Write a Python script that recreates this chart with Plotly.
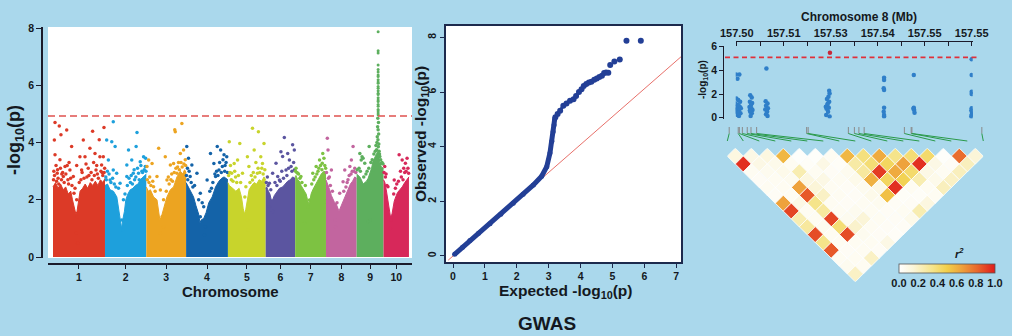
import plotly.graph_objects as go

FIG_W, FIG_H = 1012, 336
FONT = "Arial, 'Liberation Sans', Helvetica, sans-serif"
INK = "#141821"
BG = "#aad8ec"


def fx(p):
    return p / FIG_W


def fy(p):
    return 1 - p / FIG_H


# ---------------- Manhattan plot data ----------------
chrom_labels = ["1", "2", "3", "4", "5", "6", "7", "8", "9", "10"]
chrom_length_mb = [307, 244, 235, 247, 223, 174, 182, 181, 159, 150]
chrom_colors = ["#dc3a27", "#1ea0dc", "#eca421", "#1463a8", "#c8d42c",
                "#5b55a0", "#7dc242", "#c2659f", "#5daf5e", "#d7285a"]

# dense SNP cloud: (position Mb, upper -log10 p of the solid band)
chr1_band = [(0, 2.45), (15, 2.6), (30, 2.4), (45, 2.55), (60, 2.35), (75, 2.45), (90, 2.2), (105, 2.3),
             (115, 2.0), (125, 1.7), (135, 1.5), (142, 1.6), (150, 1.9), (160, 2.3), (175, 2.4), (190, 2.55),
             (205, 2.4), (220, 2.6), (235, 2.5), (250, 2.65), (265, 2.5), (280, 2.7), (295, 2.6), (307, 2.75)]
chr2_band = [(0, 2.5), (15, 2.55), (30, 2.35), (50, 2.3), (70, 2.1), (83, 1.65), (92, 1.2), (98, 1.0),
             (105, 1.3), (115, 1.6), (123, 2.0), (135, 2.2), (149, 2.35), (165, 2.4), (179, 2.5), (195, 2.55),
             (208, 2.7), (225, 2.8), (244, 2.9)]
chr3_band = [(0, 2.45), (12, 2.3), (24, 2.35), (43, 2.1), (63, 2.0), (72, 1.6), (80, 1.3), (89, 1.4),
             (102, 1.75), (112, 1.9), (122, 2.1), (142, 2.35), (161, 2.45), (181, 2.8), (201, 3.0), (215, 2.9),
             (226, 3.05), (235, 2.95)]
chr4_band = [(0, 2.6), (12, 2.45), (24, 2.35), (44, 2.1), (58, 1.8), (74, 1.5), (82, 1.2), (90, 1.3),
             (104, 1.35), (118, 1.55), (134, 1.9), (154, 2.1), (174, 2.45), (194, 2.65), (210, 2.75),
             (224, 2.8), (247, 2.7)]
chr5_band = [(0, 2.6), (8, 2.5), (28, 2.4), (47, 2.3), (66, 2.4), (80, 2.1), (90, 1.7), (98, 1.5),
             (105, 1.65), (115, 2.0), (125, 2.35), (140, 2.5), (155, 2.6), (170, 2.55), (184, 2.7),
             (200, 2.65), (213, 2.8), (223, 2.7)]
chr6_band = [(0, 2.4), (6, 2.45), (16, 2.3), (25, 2.2), (33, 2.0), (41, 2.0), (51, 2.15), (61, 2.25),
             (71, 2.3), (81, 2.4), (100, 2.45), (115, 2.55), (130, 2.65), (145, 2.7), (159, 2.8), (174, 2.75)]
chr7_band = [(0, 2.8), (5, 2.85), (15, 2.7), (25, 2.65), (35, 2.5), (45, 2.4), (55, 2.3), (65, 2.2),
             (73, 2.0), (81, 1.85), (88, 2.0), (94, 2.2), (104, 2.35), (114, 2.45), (124, 2.55), (134, 2.7),
             (144, 2.8), (154, 2.9), (170, 3.0), (182, 2.95)]
chr8_band = [(0, 2.7), (10, 2.55), (22, 2.35), (32, 2.15), (41, 2.0), (51, 1.9), (61, 1.85), (70, 1.7),
             (77, 1.6), (87, 1.75), (97, 1.9), (109, 2.05), (121, 2.25), (133, 2.4), (144, 2.55),
             (157, 2.65), (170, 2.8), (181, 2.75)]
chr9_band = [(0, 2.9), (10, 2.85), (19, 2.8), (28, 2.7), (38, 2.55), (48, 2.6), (58, 2.65), (68, 2.75),
             (78, 2.9), (88, 3.1), (97, 3.35), (107, 3.5), (117, 3.6), (127, 3.7), (137, 3.3), (146, 3.15),
             (159, 3.1)]
chr10_band = [(0, 2.7), (8, 2.6), (16, 2.35), (24, 2.0), (31, 1.75), (36, 1.5), (41, 1.4), (50, 1.5),
              (56, 1.75), (63, 1.95), (72, 2.1), (82, 2.25), (96, 2.35), (110, 2.45), (125, 2.6),
              (139, 2.7), (150, 2.8)]

# individual SNPs above / around the band: (position Mb, -log10 p)
chr1_hits = [(12, 4.7), (37, 4.58), (47, 4.27), (8, 4.09), (81, 4.44), (110, 3.86), (179, 4.09), (234, 4.4),
             (301, 4.53), (273, 4.1), (218, 3.8), (159, 3.5), (12, 3.57), (41, 3.4), (71, 3.16), (100, 3.04),
             (140, 3.2), (189, 3.5), (248, 3.62), (277, 3.5), (297, 3.5), (25, 2.93), (61, 2.81), (120, 2.81),
             (169, 3.04), (208, 3.1), (254, 3.04), (287, 3.22), (140, 2.0), (143, 1.41), (136, 0.83),
             (146, 0.48), (124, 2.23), (5, 3.0), (18, 3.2), (30, 2.75), (52, 2.9), (88, 2.7), (95, 3.3),
             (130, 2.4), (155, 2.6), (200, 2.8), (225, 2.95), (240, 3.3), (262, 2.9), (290, 2.95), (305, 3.1),
             (3, 2.7), (9, 2.85), (21, 2.65), (27, 3.05), (34, 2.55), (44, 3.1), (50, 2.7), (57, 2.95),
             (66, 2.6), (76, 2.9), (84, 3.2), (92, 2.55), (104, 2.75), (112, 2.5), (165, 2.7), (172, 2.95),
             (183, 2.75), (195, 3.25), (212, 2.85), (230, 2.7), (244, 2.85), (258, 3.2), (268, 2.75),
             (283, 3.0), (294, 2.85), (302, 2.95)]
chr2_hits = [(49, 4.73), (10, 4.09), (40, 4.03), (60, 3.86), (139, 3.74), (184, 3.86), (189, 4.35),
             (20, 3.39), (49, 3.04), (129, 3.22), (158, 3.39), (208, 3.33), (228, 3.5), (238, 3.16),
             (69, 2.93), (89, 2.58), (109, 2.0), (99, 1.29), (105, 0.94), (167, 2.93), (198, 2.93),
             (30, 2.69), (129, 2.81), (5, 2.8), (80, 2.4), (150, 2.6), (218, 3.0), (240, 3.45), (175, 2.7),
             (8, 2.7), (14, 3.0), (24, 2.9), (35, 2.6), (45, 2.75), (55, 2.55), (64, 2.45), (118, 2.2),
             (132, 2.5), (142, 2.75), (155, 2.85), (162, 2.55), (172, 3.05), (182, 2.8), (192, 3.1),
             (202, 2.7), (212, 3.2), (222, 2.95), (232, 3.05), (242, 3.0)]
chr3_hits = [(171, 4.38), (168, 4.45), (210, 4.67), (73, 3.8), (34, 3.27), (14, 3.39), (4, 3.16),
             (112, 3.5), (142, 3.22), (161, 3.27), (201, 3.62), (220, 3.74), (63, 2.81), (83, 2.34),
             (102, 2.0), (93, 1.41), (83, 0.83), (102, 1.06), (181, 2.93), (122, 2.69), (43, 2.46),
             (190, 3.3), (230, 3.4), (130, 2.8), (150, 2.9), (20, 2.8),
             (6, 2.7), (16, 2.6), (27, 2.5), (38, 2.65), (52, 2.3), (118, 2.3), (135, 2.55), (145, 2.7),
             (155, 2.65), (165, 2.95), (175, 3.1), (185, 3.15), (195, 3.05), (205, 3.3), (212, 3.15),
             (222, 3.25), (232, 3.2)]
chr4_hits = [(4, 3.86), (14, 3.45), (34, 3.22), (64, 2.93), (84, 2.23), (74, 2.0), (104, 1.76), (114, 1.06),
             (108, 0.77), (84, 1.41), (144, 3.62), (184, 3.86), (204, 3.74), (224, 3.57), (240, 3.5),
             (164, 3.27), (194, 3.04), (124, 2.69), (214, 3.16), (174, 2.81), (24, 2.81), (8, 3.1),
             (50, 2.5), (95, 1.9), (140, 2.3), (230, 3.2),
             (2, 2.85), (10, 2.7), (18, 3.0), (30, 2.6), (40, 2.45), (150, 2.4), (158, 2.6), (170, 2.9),
             (180, 3.0), (188, 2.85), (198, 3.3), (208, 2.95), (218, 3.4), (228, 3.0), (236, 3.3), (244, 2.95)]
chr5_hits = [(8, 4.03), (70, 3.97), (145, 4.5), (180, 4.38), (155, 3.74), (213, 3.97), (37, 3.27),
             (57, 3.39), (115, 3.5), (124, 3.16), (194, 3.5), (204, 3.27), (22, 2.93), (86, 2.93),
             (106, 2.46), (115, 1.29), (118, 0.94), (174, 2.93), (145, 2.69), (165, 3.3), (15, 3.2),
             (45, 2.8), (200, 3.1), (100, 2.1),
             (4, 2.85), (12, 2.95), (20, 2.7), (30, 2.65), (40, 3.0), (52, 2.6), (62, 2.85), (75, 2.6),
             (130, 2.6), (138, 2.85), (150, 2.95), (160, 2.8), (178, 3.1), (188, 2.95), (208, 2.9), (218, 3.05)]
chr6_hits = [(110, 4.18), (90, 3.68), (100, 3.51), (159, 3.92), (169, 3.74), (130, 3.62), (61, 3.28),
             (41, 2.93), (22, 2.58), (140, 3.39), (150, 3.16), (120, 3.04), (22, 1.76), (41, 1.59),
             (71, 2.81), (81, 2.69), (10, 2.8), (95, 3.0), (165, 3.3), (55, 2.6),
             (4, 2.6), (14, 2.5), (30, 2.35), (66, 2.5), (86, 2.65), (105, 2.75), (125, 2.85), (135, 3.1),
             (155, 3.0), (170, 3.05)]
chr7_hits = [(163, 3.62), (144, 3.39), (124, 3.16), (104, 2.93), (15, 2.93), (34, 2.81), (55, 1.18),
             (85, 1.99), (75, 1.76), (160, 3.28), (5, 3.1), (170, 3.45), (135, 3.0), (60, 2.5),
             (2, 3.0), (10, 2.95), (20, 2.9), (28, 2.75), (40, 2.6), (98, 2.55), (110, 2.7), (118, 2.8),
             (128, 2.9), (140, 3.1), (150, 3.2), (158, 3.05), (175, 3.2), (180, 3.1)]
chr8_hits = [(8, 4.15), (12, 3.74), (160, 3.86), (150, 3.39), (101, 2.63), (81, 2.23), (52, 1.29),
             (56, 1.06), (111, 3.04), (141, 3.16), (32, 3.04), (20, 2.8), (170, 3.1), (65, 1.9), (125, 2.6),
             (3, 2.95), (14, 2.75), (26, 2.5), (38, 2.3), (105, 2.3), (118, 2.45), (130, 2.7), (137, 2.85),
             (148, 2.9), (155, 3.0), (165, 3.0), (176, 2.95)]
chr9_hits = [(74, 3.86), (19, 3.62), (38, 3.45), (48, 3.28), (137, 3.51), (146, 3.28), (97, 3.04),
             (78, 1.29), (32, 3.5), (27, 3.39), (66, 1.24), (125, 4.85), (129, 4.7), (124, 4.55),
             (127, 4.45), (130, 4.3), (122, 4.2), (126, 4.1), (131, 3.95), (120, 4.0), (128, 3.85),
             (118, 3.75), (133, 3.7),
             (4, 3.05), (14, 3.1), (22, 3.0), (42, 2.8), (55, 2.9), (62, 3.0), (72, 3.1), (84, 3.3),
             (92, 3.4), (102, 3.6), (110, 3.7), (114, 3.9), (135, 3.6), (142, 3.4), (150, 3.3), (156, 3.25)]
chr10_hits = [(92, 3.57), (110, 3.39), (129, 3.28), (139, 3.45), (119, 3.1), (7, 3.16), (26, 2.46),
              (44, 1.29), (63, 2.69), (148, 2.93), (40, 1.0), (100, 3.0), (15, 2.9),
              (3, 2.95), (11, 2.8), (20, 2.5), (60, 2.2), (70, 2.4), (78, 2.55), (88, 2.65), (105, 2.8),
              (115, 2.7), (125, 2.95), (133, 3.0), (144, 3.1)]

# significant column on chromosome 9
chr9_peak_mb = 127
chr9_peak_logp = [7.87, 7.21, 7.13, 6.71, 6.55, 6.47, 6.36, 6.31, 6.2, 6.12, 6.07, 5.96, 5.9, 5.81,
                  5.72, 5.68, 5.57, 5.49, 5.44, 5.33, 5.27, 5.16, 5.1, 5.03, 4.97]

manhattan_threshold = 4.93

# ---------------- QQ plot data ----------------
qq_expected_dense = [0.05, 0.3, 0.53, 0.8, 1.16, 1.5, 1.89, 2.2, 2.52, 2.78, 2.94, 3.04, 3.1, 3.14, 3.17, 3.19]
qq_observed_dense = [0.06, 0.32, 0.57, 0.83, 1.18, 1.53, 1.93, 2.26, 2.6, 2.92, 3.27, 3.77, 4.2, 4.55, 4.8, 5.02]
qq_expected_upper = [3.21, 3.28, 3.36, 3.46, 3.56, 3.67, 3.78, 3.86, 3.95, 4.03, 4.1, 4.18, 4.26, 4.34,
                     4.43, 4.51, 4.59, 4.67, 4.74, 4.8, 4.87]
qq_observed_upper = [5.08, 5.2, 5.32, 5.5, 5.58, 5.68, 5.74, 5.86, 6.0, 6.1, 6.22, 6.3, 6.35, 6.38,
                     6.45, 6.5, 6.55, 6.6, 6.7, 6.72, 6.71]
qq_expected_top = [4.93, 5.06, 5.23, 5.44, 5.89]
qq_observed_top = [6.99, 7.12, 7.19, 7.88, 7.88]
qq_ref_expected = [-0.15, 7.15]
qq_ref_slope = 1.02

# ---------------- regional association data (Mb, -log10 p) ----------------
region_mb = [157.4998, 157.5007, 157.5002, 157.4999, 157.5004, 157.5009, 157.4997, 157.5003, 157.5008,
             157.5001, 157.5006, 157.4998, 157.5010, 157.5002, 157.5006, 157.4999, 157.5005, 157.5011,
             157.4996, 157.5003,
             157.5036, 157.5040, 157.5035, 157.5041, 157.5038, 157.5034, 157.5039, 157.5042, 157.5036,
             157.5040, 157.5037, 157.5035,
             157.5079, 157.5077, 157.5082, 157.5078, 157.5083, 157.5080, 157.5076, 157.5081, 157.5078,
             157.5082,
             157.5246, 157.5247, 157.5244, 157.5240, 157.5246, 157.5241, 157.5237, 157.5245, 157.5239,
             157.5243, 157.5238, 157.5247, 157.5242,
             157.5392, 157.5392, 157.5391, 157.5392, 157.5392, 157.5391, 157.5392, 157.5392,
             157.5471, 157.5471, 157.5472, 157.5473, 157.5470,
             157.5625, 157.5625, 157.5625, 157.5625, 157.5625, 157.5624, 157.5626, 157.5625, 157.5624,
             157.5626]
region_logp = [3.65, 3.65, 3.3, 1.63, 1.5, 1.35, 1.2, 1.07, 0.93, 0.79, 0.65, 0.5, 0.37, 0.23, 0.14, 0.9,
               1.0, 0.8, 0.6, 0.4,
               1.9, 1.7, 1.35, 1.25, 1.07, 0.9, 0.79, 0.65, 0.5, 0.37, 0.14, 0.6,
               4.15, 1.4, 1.2, 1.0, 0.8, 0.65, 0.7, 0.5, 0.3, 0.14,
               2.28, 2.05, 1.77, 1.58, 1.35, 1.07, 0.93, 0.85, 0.75, 0.5, 0.23, 0.1, 1.2,
               3.38, 3.18, 2.48, 2.34, 0.85, 0.5, 0.23, 0.1,
               3.6, 0.85, 0.65, 0.42, 0.75,
               4.95, 3.6, 2.2, 2.0, 0.8, 0.6, 0.42, 0.23, 0.1, 0.3]
lead_snp_mb = [157.5248]
lead_snp_logp = [5.5]
region_threshold = 5.1

region_tick_mb = [157.5, 157.5125, 157.525, 157.5375, 157.55, 157.5625]
region_tick_text = ["157.50", "157.51", "157.53", "157.54", "157.55", "157.55"]
region_minor_mb = [157.50625, 157.51875, 157.53125, 157.54375, 157.55625]

# SNPs used for the LD block (Mb)
ld_snp_mb = [157.4980, 157.5004, 157.5007, 157.5015, 157.5028, 157.5038, 157.5053, 157.5186, 157.5190,
             157.5297, 157.5313, 157.5325, 157.5339, 157.5446, 157.5464, 157.5466, 157.5652]

# pairwise r^2, row d holds pairs (i, i + d)
ld_r2_by_offset = [
    [0.12, 0.10, 0.12, 0.58, 0.02, 0.02, 0.05, 0.58, 0.38, 0.62, 0.35, 0.40, 0.42, 0.02, 0.80, 0.15],
    [0.95, 0.10, 0.08, 0.05, 0.03, 0.10, 0.03, 0.28, 0.40, 0.45, 0.65, 0.95, 0.10, 0.04, 0.22],
    [0.05, 0.06, 0.08, 0.25, 0.05, 0.04, 0.06, 0.30, 0.92, 0.62, 0.42, 0.10, 0.05, 0.22],
    [0.04, 0.05, 0.06, 0.12, 0.10, 0.05, 0.08, 0.60, 0.45, 0.48, 0.25, 0.08, 0.20],
    [0.05, 0.05, 0.65, 0.15, 0.05, 0.04, 0.06, 0.10, 0.95, 0.05, 0.05, 0.22],
    [0.04, 0.05, 0.85, 0.20, 0.05, 0.04, 0.08, 0.55, 0.03, 0.03, 0.05],
    [0.65, 0.10, 0.35, 0.05, 0.04, 0.05, 0.06, 0.04, 0.04, 0.12],
    [0.90, 0.05, 0.30, 0.05, 0.06, 0.05, 0.04, 0.05, 0.25],
    [0.25, 0.05, 0.90, 0.06, 0.15, 0.05, 0.04, 0.08],
    [0.30, 0.06, 0.40, 0.18, 0.05, 0.04, 0.04],
    [0.88, 0.05, 0.88, 0.06, 0.04, 0.03],
    [0.35, 0.05, 0.05, 0.05, 0.10],
    [0.85, 0.04, 0.05, 0.04],
    [0.05, 0.05, 0.20],
    [0.06, 0.05],
    [0.20],
]
r2_ticks = [0.0, 0.2, 0.4, 0.6, 0.8, 1.0]

ld_colorscale = [[0.0, "#ffffff"], [0.15, "#fbf5d8"], [0.35, "#f5e48a"], [0.5, "#f2cf4a"],
                 [0.65, "#eea23c"], [0.82, "#e8662c"], [1.0, "#e01b1b"]]

# ---------------- panel geometry ----------------
MAN_X_DOM = [fx(48), fx(412)]
MAN_Y_DOM = [fy(258), fy(27)]
QQ_X_DOM = [fx(446), fx(681)]
QQ_Y_DOM = [fy(262), fy(26)]
REG_X_DOM = [fx(735.7), fx(972.7)]
REG_X_RANGE = [157.49973, 157.56277]
REG_Y_DOM = [fy(118.5), fy(46)]
LD_X_DOM = [fx(727.3), fx(983.3)]
LD_Y_DOM = [fy(281.7), fy(148.3)]

fig = go.Figure()

# ---- Manhattan ----
bands = [chr1_band, chr2_band, chr3_band, chr4_band, chr5_band,
         chr6_band, chr7_band, chr8_band, chr9_band, chr10_band]
hits = [chr1_hits, chr2_hits, chr3_hits, chr4_hits, chr5_hits,
        chr6_hits, chr7_hits, chr8_hits, chr9_hits, chr10_hits]
offsets = []
acc = 0
for L in chrom_length_mb:
    offsets.append(acc)
    acc += L
centers = [o + L / 2 for o, L in zip(offsets, chrom_length_mb)]

for k in range(10):
    off, col = offsets[k], chrom_colors[k]
    fig.add_trace(go.Scatter(
        x=[off + p for p, _ in bands[k]], y=[v for _, v in bands[k]],
        mode="lines", line=dict(width=1, color=col), fill="tozeroy", fillcolor=col,
        xaxis="x", yaxis="y", hoverinfo="skip"))
    fig.add_trace(go.Scatter(
        x=[off + p for p, _ in hits[k]], y=[v for _, v in hits[k]],
        mode="markers", marker=dict(size=3.5, color=col, line=dict(width=0)),
        xaxis="x", yaxis="y", hoverinfo="skip"))

fig.add_trace(go.Scatter(
    x=[offsets[8] + chr9_peak_mb] * len(chr9_peak_logp), y=chr9_peak_logp,
    mode="markers", marker=dict(size=3, color=chrom_colors[8], line=dict(width=0)),
    xaxis="x", yaxis="y", hoverinfo="skip"))

# ---- QQ ----
QQ_BLUE = "#233f96"
fig.add_trace(go.Scatter(
    x=qq_ref_expected, y=[qq_ref_slope * v for v in qq_ref_expected],
    mode="lines", line=dict(color="#e8706a", width=1), xaxis="x2", yaxis="y2", hoverinfo="skip"))
fig.add_trace(go.Scatter(
    x=qq_expected_dense, y=qq_observed_dense, mode="lines+markers",
    line=dict(color=QQ_BLUE, width=5), marker=dict(size=5, color=QQ_BLUE),
    xaxis="x2", yaxis="y2", hoverinfo="skip"))
fig.add_trace(go.Scatter(
    x=qq_expected_upper, y=qq_observed_upper, mode="lines+markers",
    line=dict(color=QQ_BLUE, width=3), marker=dict(size=6, color=QQ_BLUE),
    xaxis="x2", yaxis="y2", hoverinfo="skip"))
fig.add_trace(go.Scatter(
    x=qq_expected_top, y=qq_observed_top, mode="markers",
    marker=dict(size=6, color=QQ_BLUE), xaxis="x2", yaxis="y2", hoverinfo="skip"))

# ---- regional association ----
fig.add_trace(go.Scatter(
    x=region_mb, y=region_logp, mode="markers",
    marker=dict(size=4.5, color="#2f7fc9", line=dict(width=0)),
    xaxis="x3", yaxis="y3", hoverinfo="skip"))
fig.add_trace(go.Scatter(
    x=lead_snp_mb, y=lead_snp_logp, mode="markers",
    marker=dict(size=4.5, color="#c8283a", line=dict(width=0)),
    xaxis="x3", yaxis="y3", hoverinfo="skip"))

# ---- LD heatmap as rotated squares ----
ld_x, ld_y, ld_c = [], [], []
for d, row in enumerate(ld_r2_by_offset, start=1):
    for i, r2 in enumerate(row):
        ld_x.append(i + d / 2)
        ld_y.append(-d / 2)
        ld_c.append(r2)
n_snp = len(ld_r2_by_offset) + 1

fig.add_trace(go.Scatter(
    x=ld_x, y=ld_y, mode="markers", xaxis="x4", yaxis="y4", hoverinfo="skip",
    marker=dict(symbol="diamond", size=12.3, color=ld_c, cmin=0, cmax=1,
                colorscale=ld_colorscale, line=dict(color="white", width=0.8),
                colorbar=dict(orientation="h", x=fx(947), xanchor="center",
                              y=fy(264), yanchor="top", len=96 / FIG_W, lenmode="fraction",
                              thickness=9, thicknessmode="pixels", xpad=0, ypad=0,
                              outlinewidth=0.8, outlinecolor="#555", ticks="",
                              tickvals=r2_ticks, ticktext=[f"{v:.1f}" for v in r2_ticks],
                              tickfont=dict(family=FONT, size=11, color=INK, weight="bold")))))

# ---------------- shapes ----------------
shapes = [
    dict(type="rect", xref="x domain", yref="y domain", x0=0, x1=1, y0=0, y1=1,
         fillcolor="white", line=dict(width=0), layer="below"),
    dict(type="rect", xref="x2 domain", yref="y2 domain", x0=0, x1=1, y0=0, y1=1,
         fillcolor="white", line=dict(width=0), layer="below"),
    dict(type="line", xref="x domain", yref="y", x0=0, x1=1,
         y0=manhattan_threshold, y1=manhattan_threshold,
         line=dict(color="#e0514f", width=1.5, dash="7px,4px")),
    dict(type="line", xref="paper", yref="y3", x0=fx(725), x1=fx(977),
         y0=region_threshold, y1=region_threshold,
         line=dict(color="#e0303a", width=1.8, dash="5px,3.5px")),
]


def mb_to_paper(mb):
    return REG_X_DOM[0] + (mb - REG_X_RANGE[0]) / (REG_X_RANGE[1] - REG_X_RANGE[0]) * (REG_X_DOM[1] - REG_X_DOM[0])


def ld_col_paper(k):
    return LD_X_DOM[0] + k / (n_snp - 1) * (LD_X_DOM[1] - LD_X_DOM[0])


for k, mb in enumerate(ld_snp_mb):
    xp = mb_to_paper(mb)
    shapes.append(dict(type="line", xref="paper", yref="paper", x0=xp, x1=xp,
                       y0=fy(127), y1=fy(133.5), line=dict(color="#8a8a8a", width=1)))
    shapes.append(dict(type="line", xref="paper", yref="paper", x0=xp, x1=ld_col_paper(k),
                       y0=fy(133.5), y1=fy(141), line=dict(color="#2a9a4a", width=1)))


# ---------------- annotations ----------------
def label(text, x, y, size, angle=0, italic=False):
    return dict(text=text, x=fx(x), y=fy(y), xref="paper", yref="paper", showarrow=False,
                textangle=angle, xanchor="center", yanchor="middle",
                font=dict(family=FONT, size=size, color=INK, weight="bold",
                          style="italic" if italic else "normal"))


annotations = [
    label("-log<sub>10</sub>(p)", 15, 140, 18, -90),
    label("Chromosome", 230, 291, 15),
    label("Observed -log<sub>10</sub>(p)", 421, 134, 15.5, -90),
    label("Expected -log<sub>10</sub>(p)", 566, 291, 15.5),
    label("Chromosome 8 (Mb)", 859, 17, 12),
    label("-log<sub>10</sub>(p)", 703, 80, 10, -90),
    label("r<sup>2</sup>", 959, 253, 11, italic=True),
    label("GWAS", 547, 323, 19),
]

tickfont = dict(family=FONT, size=10.5, color=INK, weight="bold")
AX = "#1b1b2b"

fig.update_layout(
    width=FIG_W, height=FIG_H, margin=dict(l=0, r=0, t=0, b=0, autoexpand=False),
    paper_bgcolor=BG, plot_bgcolor="rgba(0,0,0,0)", showlegend=False,
    shapes=shapes, annotations=annotations,
    xaxis=dict(domain=MAN_X_DOM, range=[-29.5, 2120], anchor="free", position=fy(264),
               showline=True, linecolor=AX, linewidth=1.5, ticks="outside", ticklen=4,
               tickcolor=AX, tickvals=centers, ticktext=chrom_labels, tickfont=tickfont,
               showgrid=False, zeroline=False, fixedrange=True, automargin=False),
    yaxis=dict(domain=MAN_Y_DOM, range=[-0.035, 8.04], anchor="free", position=fx(42),
               showline=True, linecolor=AX, linewidth=1.5, ticks="outside", ticklen=5,
               tickcolor=AX, tickvals=[0, 2, 4, 6, 8], tickfont=tickfont,
               showgrid=False, zeroline=False, fixedrange=True, automargin=False),
    xaxis2=dict(domain=QQ_X_DOM, range=[-0.22, 7.15], anchor="y2", showline=True, mirror=True,
                linecolor="#1d2a4d", linewidth=1.5, ticks="outside", ticklen=4, tickcolor="#1d2a4d",
                tickvals=list(range(8)), tickfont=tickfont, showgrid=False, zeroline=False,
                fixedrange=True, automargin=False),
    yaxis2=dict(domain=QQ_Y_DOM, range=[-0.22, 8.42], anchor="x2", showline=True, mirror=True,
                linecolor="#1d2a4d", linewidth=1.5, ticks="outside", ticklen=4, tickcolor="#1d2a4d",
                tickvals=[0, 2, 4, 6, 8], tickangle=-90, tickfont=tickfont, showgrid=False,
                zeroline=False, fixedrange=True, automargin=False),
    xaxis3=dict(domain=REG_X_DOM, range=REG_X_RANGE, anchor="free", position=fy(41.3), side="top",
                showline=True, linecolor=AX, linewidth=1.2, ticks="inside", ticklen=4, tickcolor=AX,
                tickvals=region_tick_mb, ticktext=region_tick_text,
                tickfont=dict(family=FONT, size=11, color=INK, weight="bold"),
                minor=dict(tickmode="array", tickvals=region_minor_mb, ticks="inside", ticklen=4,
                           tickcolor=AX),
                showgrid=False, zeroline=False, fixedrange=True, automargin=False),
    yaxis3=dict(domain=REG_Y_DOM, range=[-0.068, 6.06], anchor="free", position=fx(723.3),
                showline=True, linecolor=AX, linewidth=1.2, ticks="outside", ticklen=4, tickcolor=AX,
                tickvals=[0, 2, 4, 6], tickfont=tickfont, showgrid=False, zeroline=False,
                fixedrange=True, automargin=False),
    xaxis4=dict(domain=LD_X_DOM, range=[0, n_snp - 1], anchor="y4", visible=False, fixedrange=True,
                automargin=False),
    yaxis4=dict(domain=LD_Y_DOM, range=[-(n_snp - 1) / 2 - 0.5, 0], anchor="x4", visible=False,
                fixedrange=True, automargin=False),
)

fig.write_html("out.html")
